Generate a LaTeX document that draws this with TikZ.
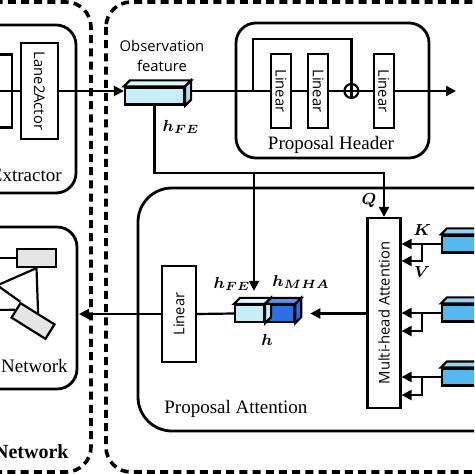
\documentclass[tikz,border=0pt]{standalone}
\usepackage{amsmath,amssymb}
\usepackage{graphicx}
\usepackage{fontspec}
\setmainfont{Liberation Serif}
\setsansfont{Open Sans}
\usepackage{tikz}
\usetikzlibrary{arrows.meta, calc, positioning}
\definecolor{mtcyan}{HTML}{C6EDF8}
\definecolor{mtcyantop}{HTML}{E4F7FC}
\definecolor{mtcyanside}{HTML}{A9DDF0}
\definecolor{mtdeep}{HTML}{2C6FE2}
\definecolor{mtdeeptop}{HTML}{5C93F0}
\definecolor{mtsky}{HTML}{55B8EE}
\definecolor{mtskytop}{HTML}{93D4F6}
\tikzset{
  mtline/.style={line width=1.1pt},
  mtarrow/.style={mtline, -{Triangle[length=5pt, width=5pt]}},
  mtpanel/.style={draw, line width=1.4pt, rounded corners=10pt},
  mtdash/.style={draw, line width=1.8pt, dash pattern=on 4pt off 2.6pt, rounded corners=12.5pt},
  mtlayer/.style={draw, line width=1.1pt, fill=white, inner sep=0pt, font=\sffamily\fontsize{7.4}{8}\selectfont},
  mtgraph/.style={draw, line width=1.1pt, fill=gray!20, inner sep=0pt},
  mtcube/.style={draw, line width=1.1pt, inner sep=0pt, minimum height=8.5pt},
  mttitle/.style={inner sep=0pt, font=\fontsize{9.5}{11}\selectfont},
  mtsym/.style={inner sep=0pt, font=\fontsize{8.5}{10}\selectfont},
}
% top and side faces of a feature block
\newcommand{\mtfaces}[3]{%
  \draw[mtline, fill=#2] (#1.north west) -- ++(3pt,3pt) -- ($(#1.north east)+(3pt,3pt)$) -- (#1.north east) -- cycle;
  \draw[mtline, fill=#3] (#1.north east) -- ++(3pt,3pt) -- ($(#1.south east)+(3pt,3pt)$) -- (#1.south east) -- cycle;
}
\begin{document}
\begin{tikzpicture}[x=0.5pt, y=-0.5pt]
  \useasboundingbox (0,0) rectangle (474,474);
  \clip (0,0) rectangle (474,474);

  % Dashed stages.
  \draw[mtdash] (-60,2) rectangle (91,472);
  \draw[mtdash] (106,2) rectangle (620,472);
  \node[mttitle, font=\fontsize{10}{12}\selectfont\bfseries, anchor=east] (stage) at (69,452) {Network};

  % Feature extractor (cut at the left).
  \draw[mtpanel] (-60,25) rectangle (76,193);
  \node[mtlayer, minimum width=22pt, minimum height=36.5pt, anchor=east] (prev) at (13,91) {};
  \node[mtlayer, minimum width=18.5pt, minimum height=48pt] (lane) at (39.5,91) {\rotatebox{-90}{Lane2Actor}};
  \node[mttitle, anchor=east] (fetitle) at (62,175) {Extractor};
  \coordinate (inlane) at (-20,91);

  % Graph network (cut at the left).
  \draw[mtpanel] (-60,227) rectangle (77,389);
  \node[mtgraph, minimum width=19.5pt, minimum height=9pt] (g1) at (36.5,258) {};
  \node[mtgraph, minimum width=20pt, minimum height=8.5pt, rotate=-32] (g2) at (33,321) {};
  \coordinate (ga) at (-20,258);
  \coordinate (gb) at (-20,293);
  \coordinate (gc) at (-20,273);
  \coordinate (gd) at (-20,310);
  \node[mttitle, anchor=east] (gntitle) at (68,366) {Network};
  \coordinate (gnin) at (79,314);

  % Observation feature.
  \node[inner sep=0pt, align=center, font=\sffamily\fontsize{7.4}{10}\selectfont] (obstitle) at (162,56) {Observation\\feature};
  \node[mtcube, fill=mtcyan, minimum width=29.5pt] (obs) at (154.5,96) {};
  \mtfaces{obs}{mtcyantop}{mtcyanside}
  \node[mtsym] (hfe) at (181,127) {$\boldsymbol{h}_{\boldsymbol{FE}}$};

  % Proposal header.
  \draw[mtpanel] (236,23) rectangle (429,158);
  \node[mtlayer, minimum width=10pt, minimum height=37pt] (lin1) at (281,91) {\rotatebox{-90}{Linear}};
  \node[mtlayer, minimum width=10pt, minimum height=37pt, right=7.5pt of lin1] (lin2) {\rotatebox{-90}{Linear}};
  \node[circle, draw, mtline, inner sep=0pt, minimum size=7pt, right=7pt of lin2] (add) {};
  \node[mtlayer, minimum width=10pt, minimum height=37pt, right=6.5pt of add] (lin3) {\rotatebox{-90}{Linear}};
  \node[mttitle] (phtitle) at (331,145) {Proposal Header};
  \coordinate (skip) at (253,91);
  \coordinate (skiptop) at (0,39);
  \coordinate (out) at (456,91);

  % Proposal attention.
  \draw[mtpanel, rounded corners=17pt] (138,188) rectangle (620,431);
  \node[mttitle, anchor=west] (patitle) at (164,409) {Proposal Attention};
  \node[mtlayer, minimum width=17pt, minimum height=48pt] (linatt) at (179,314) {\rotatebox{90}{Linear}};
  \node[mtcube, fill=mtcyan, minimum width=14.5pt] (catfe) at (249.5,313.5) {};
  \node[mtcube, fill=mtdeep, minimum width=14pt, right=0pt of catfe] (catmha) {};
  \mtfaces{catfe}{mtcyantop}{mtcyan}
  \mtfaces{catmha}{mtdeeptop}{mtdeep}
  \node[mtsym] (hfe2) at (232,284) {$\boldsymbol{h}_{\boldsymbol{FE}}$};
  \node[mtsym] (hmha) at (301,282) {$\boldsymbol{h}_{\boldsymbol{MHA}}$};
  \node[mtsym] (hcat) at (267,340) {$\boldsymbol{h}$};
  \node[mtlayer, minimum width=16.5pt, minimum height=95pt] (mha) at (384,313) {\rotatebox{90}{Multi-head Attention}};
  \node[mtsym] (q) at (369,201) {$\boldsymbol{Q}$};
  \node[mtsym] (k) at (422,230) {$\boldsymbol{K}$};
  \node[mtsym] (v) at (422,272) {$\boldsymbol{V}$};
  \node[mtcube, fill=mtsky, minimum width=40pt, anchor=west] (kv1) at (441,244) {};
  \node[mtcube, fill=mtsky, minimum width=40pt, anchor=west] (kv2) at (441,313) {};
  \node[mtcube, fill=mtsky, minimum width=40pt, anchor=west] (kv3) at (441,377) {};
  \mtfaces{kv1}{mtskytop}{mtsky}
  \mtfaces{kv2}{mtskytop}{mtsky}
  \mtfaces{kv3}{mtskytop}{mtsky}
  \coordinate (qrow) at (0,173);
  \coordinate (fetap) at (254,173);
  \coordinate (kvtap1) at (422,244);
  \coordinate (kvtap2) at (422,313);
  \coordinate (kvtap3) at (422,377);

  % Edges.
  \draw[mtline] (inlane) -- (lane.west);
  \draw[mtarrow] (lane.east) -- (lane.east -| obs.west);
  \draw[mtline] ($(obs.east |- lin1.west)+(3pt,0)$) -- (lin1.west);
  \path[mtline] (lin1) edge (lin2) (lin2) edge (add) (add) edge (lin3);
  \draw[mtline] (add.north) -- (add.south) (add.west) -- (add.east);
  \draw[mtline] (skip) -- (skip |- skiptop) -| (add.north);
  \draw[mtarrow] (lin3.east) -- (out);
  \draw[mtarrow] (obs.south) -- (obs.south |- qrow) -| (mha.north);
  \draw[mtarrow, shorten >=6.5pt] (fetap) -- (fetap |- catfe.north);
  \draw[mtarrow] (mha.west |- catmha.east) -- ($(catmha.east)+(15,0)$);
  \draw[mtline] (catfe.west) -- (linatt.east);
  \draw[mtarrow] (linatt.west) -- (gnin);
  \path[mtarrow]
    (kv1.west) edge (kv1.west -| mha.east)
    (kv2.west) edge (kv2.west -| mha.east)
    (kv3.west) edge (kv3.west -| mha.east);
  \draw[mtarrow] (kvtap1) |- ($(kvtap1 -| mha.east)+(0,17)$);
  \draw[mtarrow] (kvtap2) |- ($(kvtap2 -| mha.east)+(0,18)$);
  \draw[mtarrow] (kvtap3) |- ($(kvtap3 -| mha.east)+(0,18)$);
  \draw[mtline] (ga) -- (g1.west);
  \draw[mtline] (gb) -- (g1.south);
  \draw[mtline] (g1.south) -- (g2.north);
  \draw[mtline] (gc) -- (g2.north west);
  \draw[mtline] (gd) -- (g2.west);
\end{tikzpicture}
\end{document}
